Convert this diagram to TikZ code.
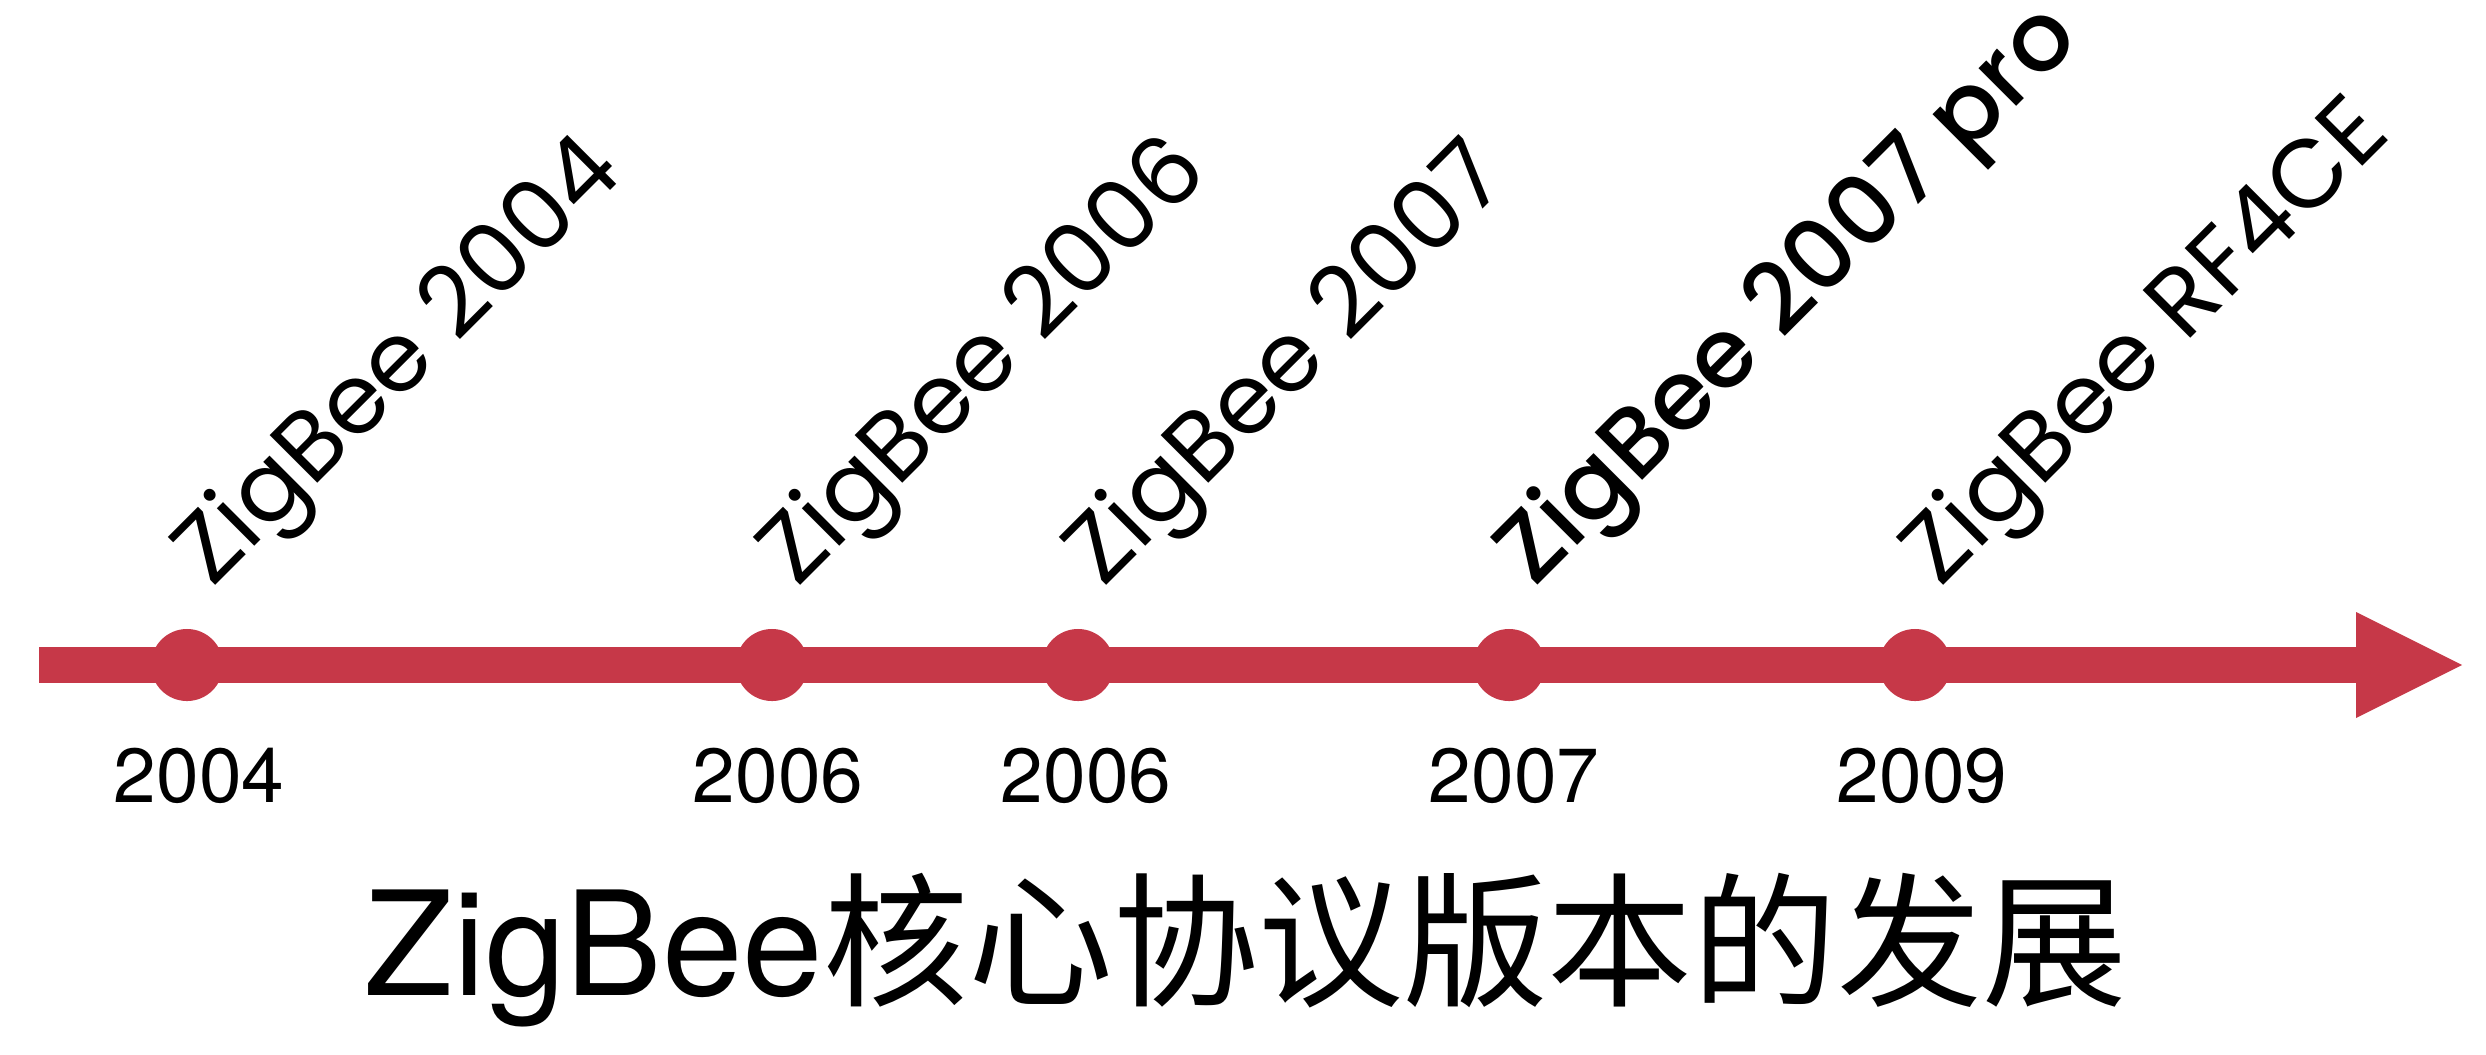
\documentclass[tikz,border=0pt]{standalone}
\usepackage{fontspec}
\setmainfont{TeX Gyre Heros}
\newfontfamily\cjk{Noto Sans CJK SC}
\newfontfamily\labfont{Poppins}[BoldFont={Poppins Medium}]
\usetikzlibrary{calc}
\definecolor{barred}{RGB}{198,56,72}

\tikzset{
  dot/.style={circle,fill=barred,inner sep=0pt,minimum size=0.72cm},
  ver/.style={rotate=45,anchor=base west,inner sep=0pt,font=\labfont\fontsize{27.5}{32}\selectfont},
  year/.style={anchor=base,inner sep=0pt,font=\fontsize{21.8}{26}\selectfont},
}

\begin{document}
\begin{tikzpicture}[x=0.01cm,y=-0.01cm]
\useasboundingbox (0,0) rectangle (2486,1054);

\coordinate (start) at (39,665);
\coordinate (head) at (2356,665);
\coordinate (tip) at (2462,665);

\draw[barred, line width=0.36cm] (start) -- (head);
\fill[barred] ($(head)+(0,-53)$) -- (tip) -- ($(head)+(0,53)$) -- cycle;

\node[dot] (v04) at (187,665) {};
\node[dot] (v06) at (772,665) {};
\node[dot] (v06b) at (1078,665) {};
\node[dot] (v07) at (1509,665) {};
\node[dot] (v09) at (1915,665) {};

\node[year] at (199,802) {2004};
\node[year] at (778,802) {2006};
\node[year] at (1086,802) {2006};
\node[year] at (1514,802) {2007};
\node[year] at (1922,802) {2009};

\node[ver] at (212,589) {ZigBee 2004};
\node[ver] at (797,589) {ZigBee 2006};
\node[ver] at (1103,589) {ZigBee 2007};
\node[ver] at (1534,589) {\bfseries ZigBee 2007 pro};
\node[ver] at (1940,589) {ZigBee RF4CE};

\node[anchor=base,inner sep=0pt,font=\fontsize{41.2}{48}\selectfont] (title) at (1246,995) {ZigBee\cjk 核心协议版本的发展};

\end{tikzpicture}
\end{document}
